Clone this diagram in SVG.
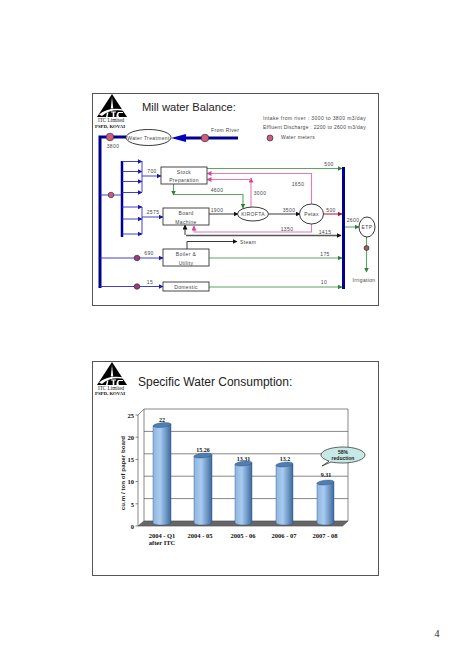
<svg xmlns="http://www.w3.org/2000/svg" width="474" height="670" viewBox="0 0 474 670">
<style>
text{font-family:"Liberation Sans",Arial,sans-serif;fill:#444}
.s{font-size:5px;letter-spacing:.35px}
.m{text-anchor:middle}
.t{font-family:"Liberation Serif","Times New Roman",serif;font-weight:bold;fill:#111}
.frame{fill:#fff;stroke:#555;stroke-width:1}
.box{fill:#fff;stroke:#333;stroke-width:.9}
.ell{fill:#fff;stroke:#222;stroke-width:.9}
.meter{fill:#d05a80;stroke:#222;stroke-width:.6}
.b{fill:none;stroke:#2a2ac8;stroke-width:.9}
.nv{fill:none;stroke:#000090}
.g{fill:none;stroke:#5aa860;stroke-width:1.1}
.p{fill:none;stroke:#e878b8;stroke-width:1.1}
.k{fill:none;stroke:#222;stroke-width:.9}
.grid{stroke:#555;stroke-width:.7;fill:none}
</style>
<defs>
<marker id="ab" markerWidth="5" markerHeight="5" refX="4.5" refY="2.5" orient="auto" markerUnits="userSpaceOnUse"><path d="M0 0L5 2.5L0 5Z" fill="#1818b0"/></marker>
<marker id="ag" markerWidth="5" markerHeight="5" refX="4.5" refY="2.5" orient="auto" markerUnits="userSpaceOnUse"><path d="M0 0L5 2.5L0 5Z" fill="#2f8038"/></marker>
<marker id="ap" markerWidth="5" markerHeight="5" refX="4.5" refY="2.5" orient="auto" markerUnits="userSpaceOnUse"><path d="M0 0L5 2.5L0 5Z" fill="#e0409a"/></marker>
<marker id="ak" markerWidth="5" markerHeight="5" refX="4.5" refY="2.5" orient="auto" markerUnits="userSpaceOnUse"><path d="M0 0L5 2.5L0 5Z" fill="#111"/></marker>
<marker id="ar" markerWidth="5" markerHeight="5" refX="4.5" refY="2.5" orient="auto" markerUnits="userSpaceOnUse"><path d="M0 0L5 2.5L0 5Z" fill="#b01030"/></marker>
<linearGradient id="bar" x1="0" x2="1" y1="0" y2="0"><stop offset="0" stop-color="#8fb6e0"/><stop offset=".4" stop-color="#a8cbf0"/><stop offset="1" stop-color="#3c6a9e"/></linearGradient>
<g id="logo">
<path d="M16 0L1 23H31Z" fill="#000"/>
<path d="M16 3L14.800 14.500H17.200Z" fill="#fff"/>
<path d="M3 20.500Q13 12 30 16L30 17Q14 14 6 22Z" fill="#fff"/>
<path d="M11 18.500H12.500L11.500 23H10ZM15 17.500H20V18.500H18.300V23H16.700V18.500H15ZM27 19H23Q21.500 21 23 23H27V24H21Q19.500 21 22 18H27Z" fill="#fff"/>
</g>
</defs>
<rect width="474" height="670" fill="#fff"/>

<g id="slide1">
<rect class="frame" x="92.500" y="93.500" width="286" height="212"/>
<use href="#logo" x="96" y="94"/>
<text class="t" x="111" y="122" style="font-size:5.200px;font-weight:normal" text-anchor="middle">ITC Limited</text>
<text class="t" x="110" y="127.500" style="font-size:4.800px" text-anchor="middle">PSPD, KOVAI</text>
<text x="142" y="111" style="font-size:11.200px;fill:#222">Mill water Balance:</text>
<text class="s" x="263" y="120" textLength="103">Intake from river  : 3000 to 3800 m3/day</text>
<text class="s" x="263" y="129" textLength="103">Effluent Discharge  : 2200 to 2600 m3/day</text>
<text class="s" x="281" y="139">Water meters</text>
<circle class="meter" cx="270" cy="138" r="3"/>
</g>

<g id="connectors">
<path class="nv" stroke-width="3" d="M126 137H100V288"/>
<path class="nv" stroke-width="3" d="M238 138H180"/>
<path d="M171 138L186 134V142Z" fill="#0000c0"/>
<path class="nv" stroke-width="2.500" d="M122 161V237"/>
<path class="nv" stroke-width="3" d="M343.500 167V289"/>
<path class="b" d="M100 195H122"/>
<path class="b" marker-end="url(#ab)" d="M122 161.500H142"/>
<path class="b" marker-end="url(#ab)" d="M122 171.500H142"/>
<path class="b" marker-end="url(#ab)" d="M122 181.500H142"/>
<path class="b" marker-end="url(#ab)" d="M122 192.500H142"/>
<path class="b" d="M142 161V192"/>
<path class="b" marker-end="url(#ab)" d="M142 176H161"/>
<path class="b" marker-end="url(#ab)" d="M122 207H142"/>
<path class="b" marker-end="url(#ab)" d="M122 219H142"/>
<path class="b" marker-end="url(#ab)" d="M122 234H142"/>
<path class="b" d="M142 207V234"/>
<path class="b" marker-end="url(#ab)" d="M142 217H163"/>
<path class="b" marker-end="url(#ab)" d="M100 258H163"/>
<path class="b" marker-end="url(#ab)" d="M100 286.500H163"/>
<path class="g" marker-end="url(#ag)" d="M207 168.500H342"/>
<path class="g" marker-end="url(#ag)" d="M173.500 184V195"/>
<path class="g" marker-end="url(#ag)" d="M173.500 194.500H243V208"/>
<path class="g" marker-end="url(#ag)" d="M209 258H342"/>
<path class="g" marker-end="url(#ag)" d="M209 287H342"/>
<path class="g" marker-end="url(#ag)" d="M345 227H359"/>
<path class="g" marker-end="url(#ag)" d="M366.500 237V272"/>
<path class="p" marker-end="url(#ap)" d="M311.500 204V173.500H207"/>
<path class="p" marker-end="url(#ap)" d="M311.500 224V232H194V226"/>
<path class="p" marker-end="url(#ap)" d="M251 207V178"/>
<path class="p" marker-end="url(#ap)" d="M251 179.500H207"/>
<path class="k" marker-end="url(#ak)" d="M209 214H238"/>
<path class="k" marker-end="url(#ak)" d="M269 214H300"/>
<path fill="none" stroke="#b01030" stroke-width="1" marker-end="url(#ar)" d="M323 214H342"/>
<path fill="none" stroke="#555" stroke-width="1.500" marker-end="url(#ak)" d="M186 235.500H341"/>
<path class="k" marker-end="url(#ak)" d="M185 235V225"/>
<path class="k" marker-end="url(#ak)" d="M187 249V241.500H237"/>
<circle class="meter" cx="110" cy="137" r="3.800"/>
<circle class="meter" cx="205" cy="138" r="3.800"/>
<circle class="meter" cx="111" cy="195" r="2.800"/>
<circle class="meter" cx="137" cy="258" r="2.800" style="fill:#a03a80"/>
<circle class="meter" cx="137" cy="286.500" r="2.800" style="fill:#a03a80"/>
<circle class="meter" cx="366.500" cy="248" r="2.500" style="fill:#a05a60"/>
</g>

<g id="edge-labels">
<text class="s" x="211" y="131.500">From River</text>
<text class="s m" x="113" y="148">3800</text>
<text class="s m" x="152" y="173">700</text>
<text class="s m" x="153" y="214">2575</text>
<text class="s m" x="149" y="255">690</text>
<text class="s m" x="150" y="284">15</text>
<text class="s m" x="217" y="192">4600</text>
<text class="s m" x="217" y="212">1900</text>
<text class="s m" x="260" y="195">3000</text>
<text class="s m" x="298" y="186">1650</text>
<text class="s m" x="329" y="166">500</text>
<text class="s m" x="289" y="212">3500</text>
<text class="s m" x="331" y="212">500</text>
<text class="s m" x="287" y="231">1350</text>
<text class="s m" x="325" y="234">1415</text>
<text class="s m" x="325" y="256">175</text>
<text class="s m" x="324" y="284">10</text>
<text class="s m" x="353" y="222">2600</text>
<text class="s" x="240" y="243.500">Steam</text>
<text class="s m" x="364" y="281.500">Irrigation</text>
</g>

<g id="water-treatment"><ellipse class="ell" cx="148.500" cy="137.500" rx="22.500" ry="8"/><text class="s m" x="148.500" y="139.500">Water Treatment</text></g>
<g id="stock"><rect class="box" x="161" y="167" width="46" height="17"/><text class="s m" x="184" y="173.500">Stock</text><text class="s m" x="184" y="182">Preparation</text></g>
<g id="board"><rect class="box" x="163" y="208" width="46" height="17"/><text class="s m" x="186" y="214.500">Board</text><text class="s m" x="186" y="223.500">Machine</text></g>
<g id="boiler"><rect class="box" x="163" y="249" width="46" height="17"/><text class="s m" x="186" y="255.500">Boiler &amp;</text><text class="s m" x="186" y="264.500">Utility</text></g>
<g id="domestic"><rect class="box" x="163" y="282" width="46" height="9"/><text class="s m" x="186" y="288.500">Domestic</text></g>
<g id="kirofta"><ellipse class="ell" cx="253" cy="214" rx="15.500" ry="7"/><text class="s m" x="253" y="216">KIROFTA</text></g>
<g id="petax"><ellipse class="ell" cx="311.500" cy="214" rx="12" ry="10"/><text class="s m" x="311.500" y="216">Petax</text></g>
<g id="etp"><ellipse class="ell" cx="367" cy="227" rx="8" ry="10"/><text class="s m" x="367" y="229">ETP</text></g>

<g id="slide2">
<rect class="frame" x="92.500" y="361.500" width="286" height="214"/>
<use href="#logo" x="96" y="362"/>
<text class="t" x="111" y="389.500" style="font-size:5.200px;font-weight:normal" text-anchor="middle">ITC Limited</text>
<text class="t" x="110" y="395" style="font-size:4.800px" text-anchor="middle">PSPD, KOVAI</text>
<text x="138" y="386" style="font-size:12px;fill:#222">Specific Water Consumption:</text>
</g>

<g id="chart">
<path d="M144 521H348L342.500 526H138Z" fill="#666"/>
<path class="grid" d="M144 409H348V521M144 431.400H348M144 453.800H348M144 476.200H348M144 498.600H348M144 521H348M144 409V521L138 526V415L144 409M138 526H342.500L348 521"/>
<path class="grid" d="M135.500 415H138M135.500 437.200H138M135.500 459.400H138M135.500 481.600H138M135.500 503.800H138M135.500 526H138"/>
<g style="font-size:6.500px">
<text class="t" x="134" y="417.500" text-anchor="end">25</text>
<text class="t" x="134" y="439.500" text-anchor="end">20</text>
<text class="t" x="134" y="461.500" text-anchor="end">15</text>
<text class="t" x="134" y="484" text-anchor="end">10</text>
<text class="t" x="134" y="506.500" text-anchor="end">5</text>
<text class="t" x="134" y="529" text-anchor="end">0</text>
</g>
<text transform="translate(125 473) rotate(-90)" text-anchor="middle" style="font-size:6.200px;font-weight:bold;fill:#222">cu.m / ton of paper board</text>
<g id="bars" stroke="#2a4a70" stroke-width=".4">
<g id="bar1"><path fill="url(#bar)" d="M153 426V523A9 2 0 0 0 171 523V424Z"/><ellipse cx="162" cy="425" rx="9" ry="2.300" transform="rotate(-6 162 425)" fill="#4f7fb2"/></g>
<g id="bar2"><path fill="url(#bar)" d="M194 456V523A9 2 0 0 0 212 523V455Z"/><ellipse cx="203" cy="455.500" rx="9" ry="2.300" transform="rotate(-6 203 455.500)" fill="#4f7fb2"/></g>
<g id="bar3"><path fill="url(#bar)" d="M235 464V523A8.500 2 0 0 0 252 523V463Z"/><ellipse cx="243.500" cy="463.500" rx="8.500" ry="2.300" transform="rotate(-6 243.500 463.500)" fill="#4f7fb2"/></g>
<g id="bar4"><path fill="url(#bar)" d="M276 465V523A8.500 2 0 0 0 293 523V464Z"/><ellipse cx="284.500" cy="464.500" rx="8.500" ry="2.300" transform="rotate(-6 284.500 464.500)" fill="#4f7fb2"/></g>
<g id="bar5"><path fill="url(#bar)" d="M317 483V523A8.500 2 0 0 0 334 523V482Z"/><ellipse cx="325.500" cy="482.500" rx="8.500" ry="2.300" transform="rotate(-6 325.500 482.500)" fill="#4f7fb2"/></g>
</g>
<g style="font-size:6px">
<text class="t m" x="162" y="422">22</text>
<text class="t m" x="203" y="452">15.26</text>
<text class="t m" x="243.500" y="461">13.31</text>
<text class="t m" x="285" y="461">13.2</text>
<text class="t m" x="326" y="476.500">9.31</text>
</g>
<g style="font-size:6.500px">
<text class="t m" x="162" y="537.500">2004 - Q1</text>
<text class="t m" x="162" y="545">after ITC</text>
<text class="t m" x="200" y="537.500">2004 - 05</text>
<text class="t m" x="243" y="537.500">2005 - 06</text>
<text class="t m" x="284" y="537.500">2006 - 07</text>
<text class="t m" x="325" y="537.500">2007 - 08</text>
</g>
<g id="callout">
<path d="M329 461.200C324 459 321 457.500 321 455C321 450.600 331 447 343 447C355 447 365 450.600 365 455C365 459.400 355 463 343 463C338 463 334 462.600 331 462L322 466Z" fill="#c8e8e8" stroke="#222" stroke-width=".7"/>
<text x="343" y="453.500" text-anchor="middle" style="font-size:5px;font-weight:bold;fill:#222">58%</text>
<text x="343" y="459.800" text-anchor="middle" style="font-size:5px;font-weight:bold;fill:#222">reduction</text>
</g>
</g>
<text id="page" x="437" y="637" text-anchor="middle" style="font-family:'Liberation Serif',serif;font-size:10px;fill:#222">4</text>
</svg>
